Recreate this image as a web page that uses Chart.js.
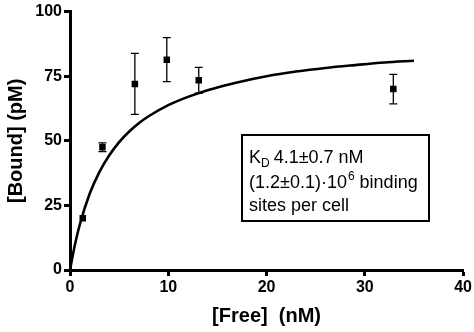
<!DOCTYPE html>
<html>
<head>
<meta charset="utf-8">
<script src="https://cdn.jsdelivr.net/npm/chart.js@4"></script>
<style>
  html, body { margin: 0; padding: 0; background: #fff; }
  #wrap { width: 474px; height: 332px; position: relative; }
</style>
</head>
<body>
<div id="wrap"><canvas id="bindingChart"></canvas></div>
<script>
// Saturation binding: measured points with SEM and the fitted curve
const freeConc = [1.3, 3.3, 6.6, 9.85, 13.1, 32.9];
const boundConc = [20, 47.5, 72, 81.4, 73.4, 70];
const boundErr = [0, 1.7, 11.8, 8.5, 5, 5.7];

const fitX = [0, 0.5, 1, 2, 3, 4, 5, 6, 7, 8, 10, 12, 14, 17, 20, 23, 26, 29, 32, 35];
const fitY = [0, 9.8, 17.6, 29.5, 38, 44.4, 49.5, 53.5, 56.8, 59.5, 63.8, 67, 69.6, 72.6, 75, 76.8, 78.2, 79.3, 80.3, 81];

const xTicks = [0, 10, 20, 30, 40];
const yTicks = [0, 25, 50, 75, 100];

const boxLines = ['4.1\u00b10.7 nM', '(1.2\u00b10.1)\u00b710', ' binding', 'sites per cell'];

// vertical error bars with caps
const errorBars = {
    id: 'errorBars',
    afterDatasetsDraw(chart) {
        const { ctx, scales: { x, y } } = chart;
        ctx.save();
        ctx.strokeStyle = '#000';
        ctx.lineWidth = 1.3;
        freeConc.forEach((fx, i) => {
            if (!boundErr[i]) return;
            const px = x.getPixelForValue(fx);
            const top = y.getPixelForValue(boundConc[i] + boundErr[i]);
            const bot = y.getPixelForValue(boundConc[i] - boundErr[i]);
            ctx.beginPath();
            ctx.moveTo(px, top); ctx.lineTo(px, bot);
            ctx.moveTo(px - 4, top); ctx.lineTo(px + 4, top);
            ctx.moveTo(px - 4, bot); ctx.lineTo(px + 4, bot);
            ctx.stroke();
        });
        ctx.restore();
    }
};

// result box in the lower right
const resultBox = {
    id: 'resultBox',
    afterDraw(chart) {
        const ctx = chart.ctx;
        ctx.save();
        ctx.strokeStyle = '#000';
        ctx.lineWidth = 2;
        ctx.strokeRect(242, 135, 187, 86);
        ctx.fillStyle = '#000';
        ctx.textBaseline = 'alphabetic';
        const f = '"Liberation Sans", Arial, sans-serif';
        ctx.font = '18px ' + f;
        ctx.fillText('K', 249, 163);
        let w = ctx.measureText('K').width;
        ctx.font = '12px ' + f;
        ctx.fillText('D', 249 + w, 167);
        w += ctx.measureText('D').width + 4;
        ctx.font = '18px ' + f;
        ctx.fillText(boxLines[0], 249 + w, 163);
        ctx.fillText(boxLines[1], 249, 188);
        let w2 = ctx.measureText(boxLines[1]).width;
        ctx.font = '12px ' + f;
        ctx.fillText('6', 250 + w2, 180);
        w2 += ctx.measureText('6').width + 1;
        ctx.font = '18px ' + f;
        ctx.fillText(boxLines[2], 249 + w2, 188);
        ctx.fillText(boxLines[3], 249, 211);
        ctx.restore();
    }
};

const axisFont = { family: '"Liberation Sans", Arial, sans-serif', size: 16, weight: 'bold' };

new Chart(document.getElementById('bindingChart'), {
    type: 'scatter',
    data: {
        datasets: [{
            type: 'line',
            data: fitX.map((v, i) => ({ x: v, y: fitY[i] })),
            borderColor: '#000',
            borderWidth: 2.6,
            pointRadius: 0,
            cubicInterpolationMode: 'monotone',
            fill: false
        }, {
            data: freeConc.map((v, i) => ({ x: v, y: boundConc[i] })),
            pointStyle: 'rect',
            pointRadius: 4.6,
            backgroundColor: '#000',
            borderColor: '#000',
            borderWidth: 0
        }]
    },
    options: {
        responsive: true,
        maintainAspectRatio: false,
        animation: false,
        events: [],
        layout: { padding: { top: 7, right: 9, left: 0, bottom: 0 } },
        plugins: { legend: { display: false }, tooltip: { enabled: false } },
        scales: {
            x: {
                type: 'linear',
                min: 0, max: 40,
                afterBuildTicks: s => { s.ticks = xTicks.map(v => ({ value: v })); },
                afterFit: s => { s.height = 62; },
                grid: { display: true, drawOnChartArea: false, drawTicks: true, tickLength: 6, tickWidth: 3, tickColor: '#000' },
                border: { display: true, width: 3, color: '#000' },
                ticks: { color: '#000', font: axisFont, padding: 2, maxRotation: 0 },
                title: { display: true, text: '[Free]  (nM)', color: '#000', font: { ...axisFont, size: 20 }, padding: { top: 4, bottom: 4 } }
            },
            y: {
                type: 'linear',
                min: 0, max: 100,
                afterBuildTicks: s => { s.ticks = yTicks.map(v => ({ value: v })); },
                afterFit: s => { s.width = 70; },
                grid: { display: true, drawOnChartArea: false, drawTicks: true, tickLength: 6, tickWidth: 3, tickColor: '#000' },
                border: { display: true, width: 3, color: '#000' },
                ticks: { color: '#000', font: axisFont, padding: 2 },
                title: { display: true, text: '[Bound] (pM)', color: '#000', font: { ...axisFont, size: 20 }, padding: { top: 4, bottom: 4 } }
            }
        }
    },
    plugins: [errorBars, resultBox]
});
</script>
</body>
</html>
